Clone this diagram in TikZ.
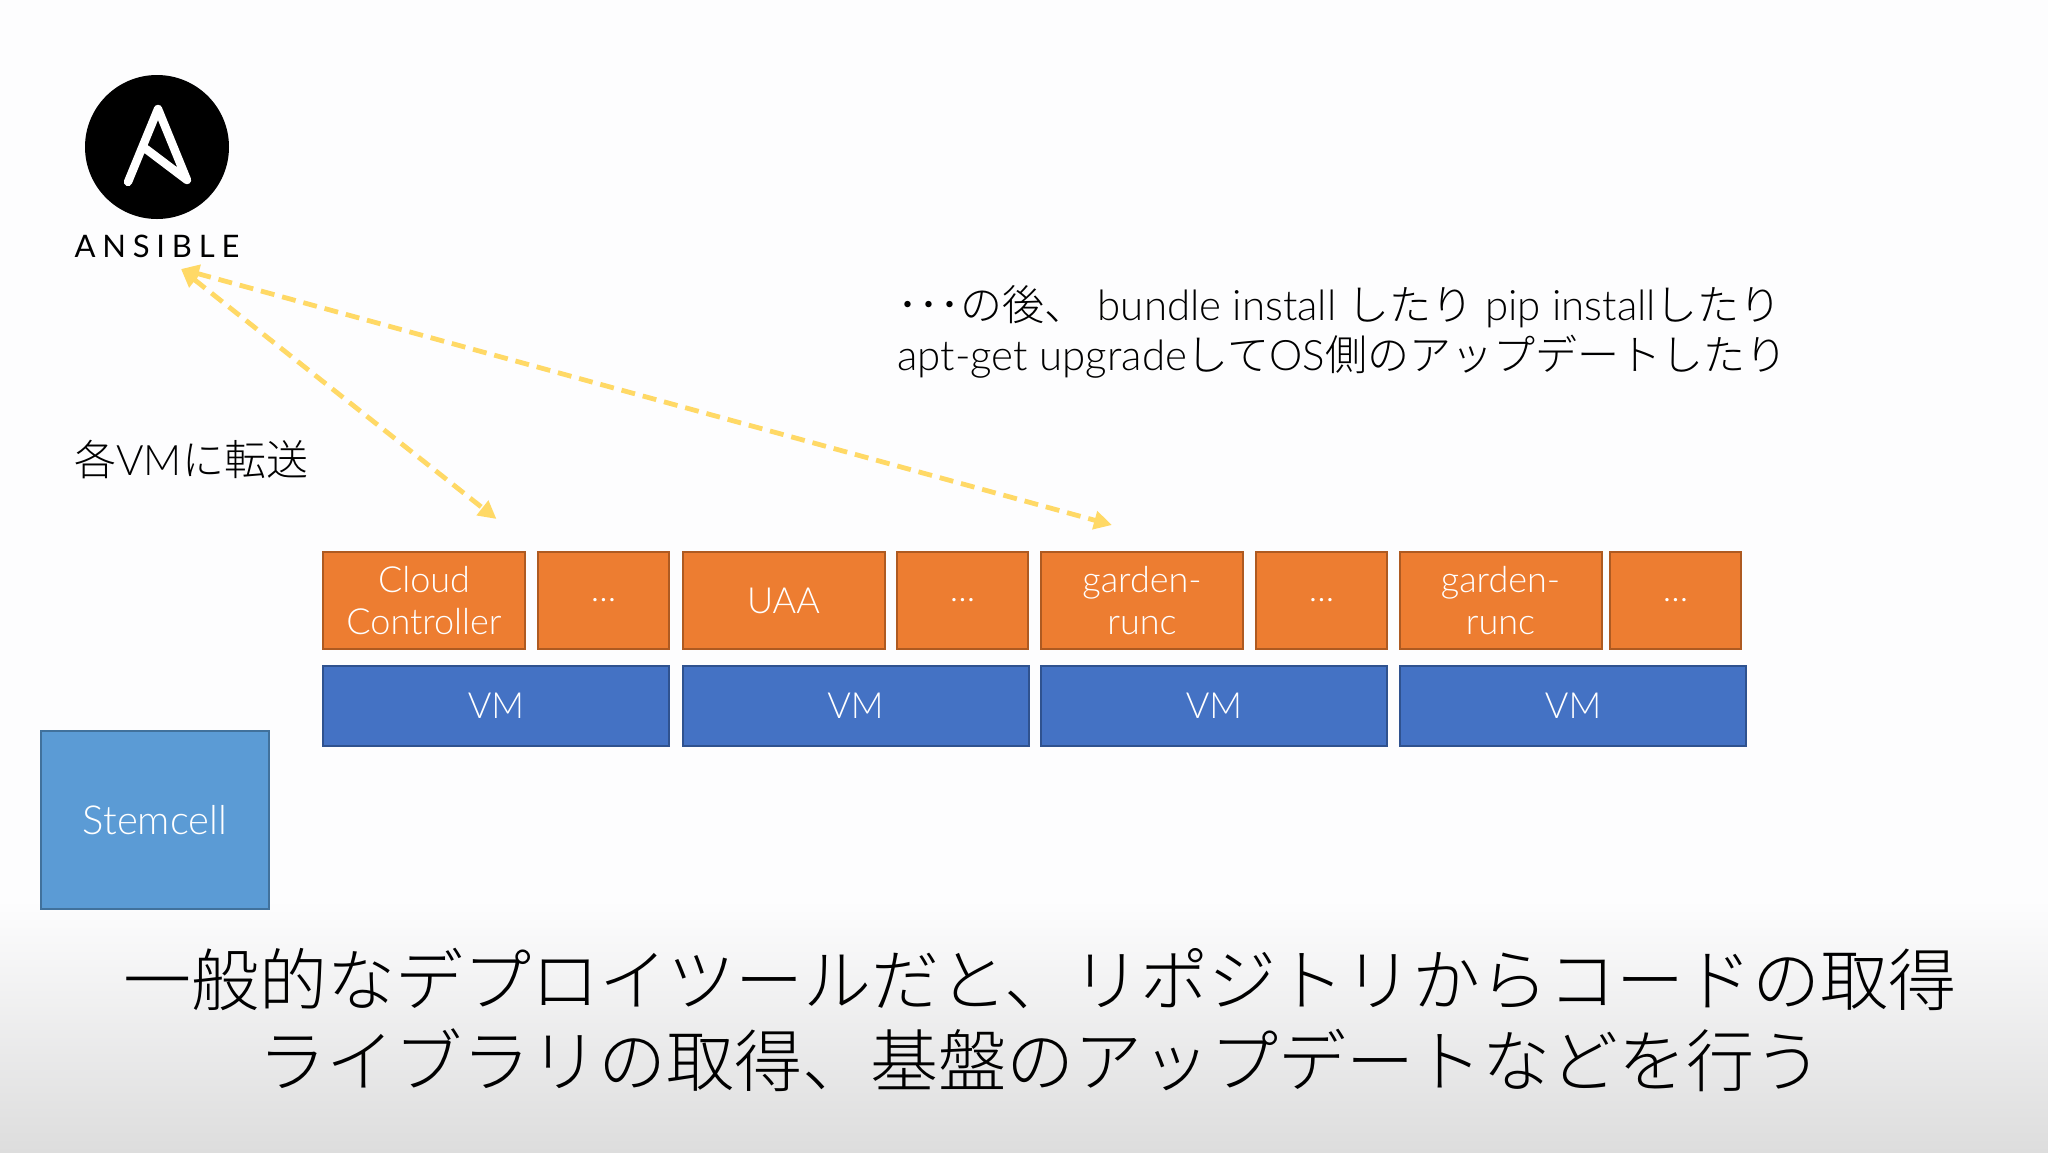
\documentclass[tikz,border=0pt]{standalone}
\usepackage{fontspec}
\usetikzlibrary{arrows.meta}
\setmainfont{Lato Light}
\newfontfamily\jp{Noto Sans CJK JP Light}
\newfontfamily\logofont[LetterSpace=22]{Lato}
\definecolor{bgc}{HTML}{FDFDFE}
\definecolor{bottomc}{HTML}{DDDDDD}
\definecolor{orangef}{HTML}{ED7D31}
\definecolor{oranged}{HTML}{AE5A21}
\definecolor{bluef}{HTML}{4472C4}
\definecolor{blued}{HTML}{2F528F}
\definecolor{stemf}{HTML}{5B9BD5}
\definecolor{stemd}{HTML}{41719C}
\definecolor{arrowc}{HTML}{FFD966}
\tikzset{
  boxbase/.style={rectangle,line width=1pt,text=white,align=center,inner sep=0pt,font=\fontsize{18}{21}\selectfont},
  svc/.style={boxbase,draw=oranged,fill=orangef,minimum height=48.5pt},
  wide/.style={minimum width=101pt},
  narrow/.style={minimum width=65.5pt},
  vmbox/.style={boxbase,draw=blued,fill=bluef,minimum width=173pt,minimum height=40pt},
  stembox/.style={boxbase,draw=stemd,fill=stemf,minimum width=114pt,minimum height=89pt,font=\fontsize{20}{24}\selectfont},
  flow/.style={draw=arrowc,line width=2.4pt,dash pattern=on 7pt off 4pt,{Triangle[length=9pt,width=9pt]}-{Triangle[length=9pt,width=9pt]}},
  note/.style={text=black,inner sep=0pt,align=left,font=\fontsize{21}{25}\selectfont},
  caption/.style={text=black,inner sep=0pt,align=center,font=\jp\fontsize{34}{40.5}\selectfont},
}
\begin{document}
\begin{tikzpicture}[x=0.5pt,y=-0.5pt]
\useasboundingbox (0,0) rectangle (2048,1152);
\fill[bgc] (0,0) rectangle (2048,1152);
\shade[top color=bgc,bottom color=bottomc] (0,900) rectangle (2048,1152);
% logo
\node[circle,fill=black,minimum size=72pt,inner sep=0pt] (logo) at (157,147) {};
\draw[white,line width=4.2pt,line cap=round,line join=round] (128,182) -- (158,109) -- (187,180) -- (146,149);
\node[inner sep=0pt,text=black,font=\logofont\fontsize{15.5}{18}\selectfont] (ansible) at (157,246) {ANSIBLE};
% boxes
\node[svc,wide] (o1) at (424,600.5) {Cloud\\Controller};
\node[svc,narrow] (o2) at (603.5,600.5) {...};
\node[svc,wide] (o3) at (783.5,600.5) {UAA};
\node[svc,narrow] (o4) at (962.5,600.5) {...};
\node[svc,wide] (o5) at (1142,600.5) {garden-\\runc};
\node[svc,narrow] (o6) at (1321.5,600.5) {...};
\node[svc,wide] (o7) at (1500.5,600.5) {garden-\\runc};
\node[svc,narrow] (o8) at (1675.5,600.5) {...};
\node[vmbox] (v1) at (496,706) {VM};
\node[vmbox] (v2) at (855.5,706) {VM};
\node[vmbox] (v3) at (1214,706) {VM};
\node[vmbox] (v4) at (1573,706) {VM};
\node[stembox] (stem) at (155,820) {Stemcell};
% texts
\node[note,anchor=west] (sub) at (74,460) {{\jp 各}VM{\jp に転送}};
\node[note,anchor=west] (after) at (897,332) {{\jp ･･･の後、} bundle install {\jp したり} pip install{\jp したり}\\apt-get upgrade{\jp して}OS{\jp 側のアップデートしたり}};
\node[caption] (cap) at (1040,1020) {一般的なデプロイツールだと、リポジトリからコードの取得\\ライブラリの取得、基盤のアップデートなどを行う};
% connectors
\coordinate (src) at (181,269);
\coordinate (t1) at (496.5,519);
\coordinate (t2) at (1112,525);
\draw[flow] (src) -- (t1);
\draw[flow] (src) -- (t2);
\end{tikzpicture}
\end{document}
